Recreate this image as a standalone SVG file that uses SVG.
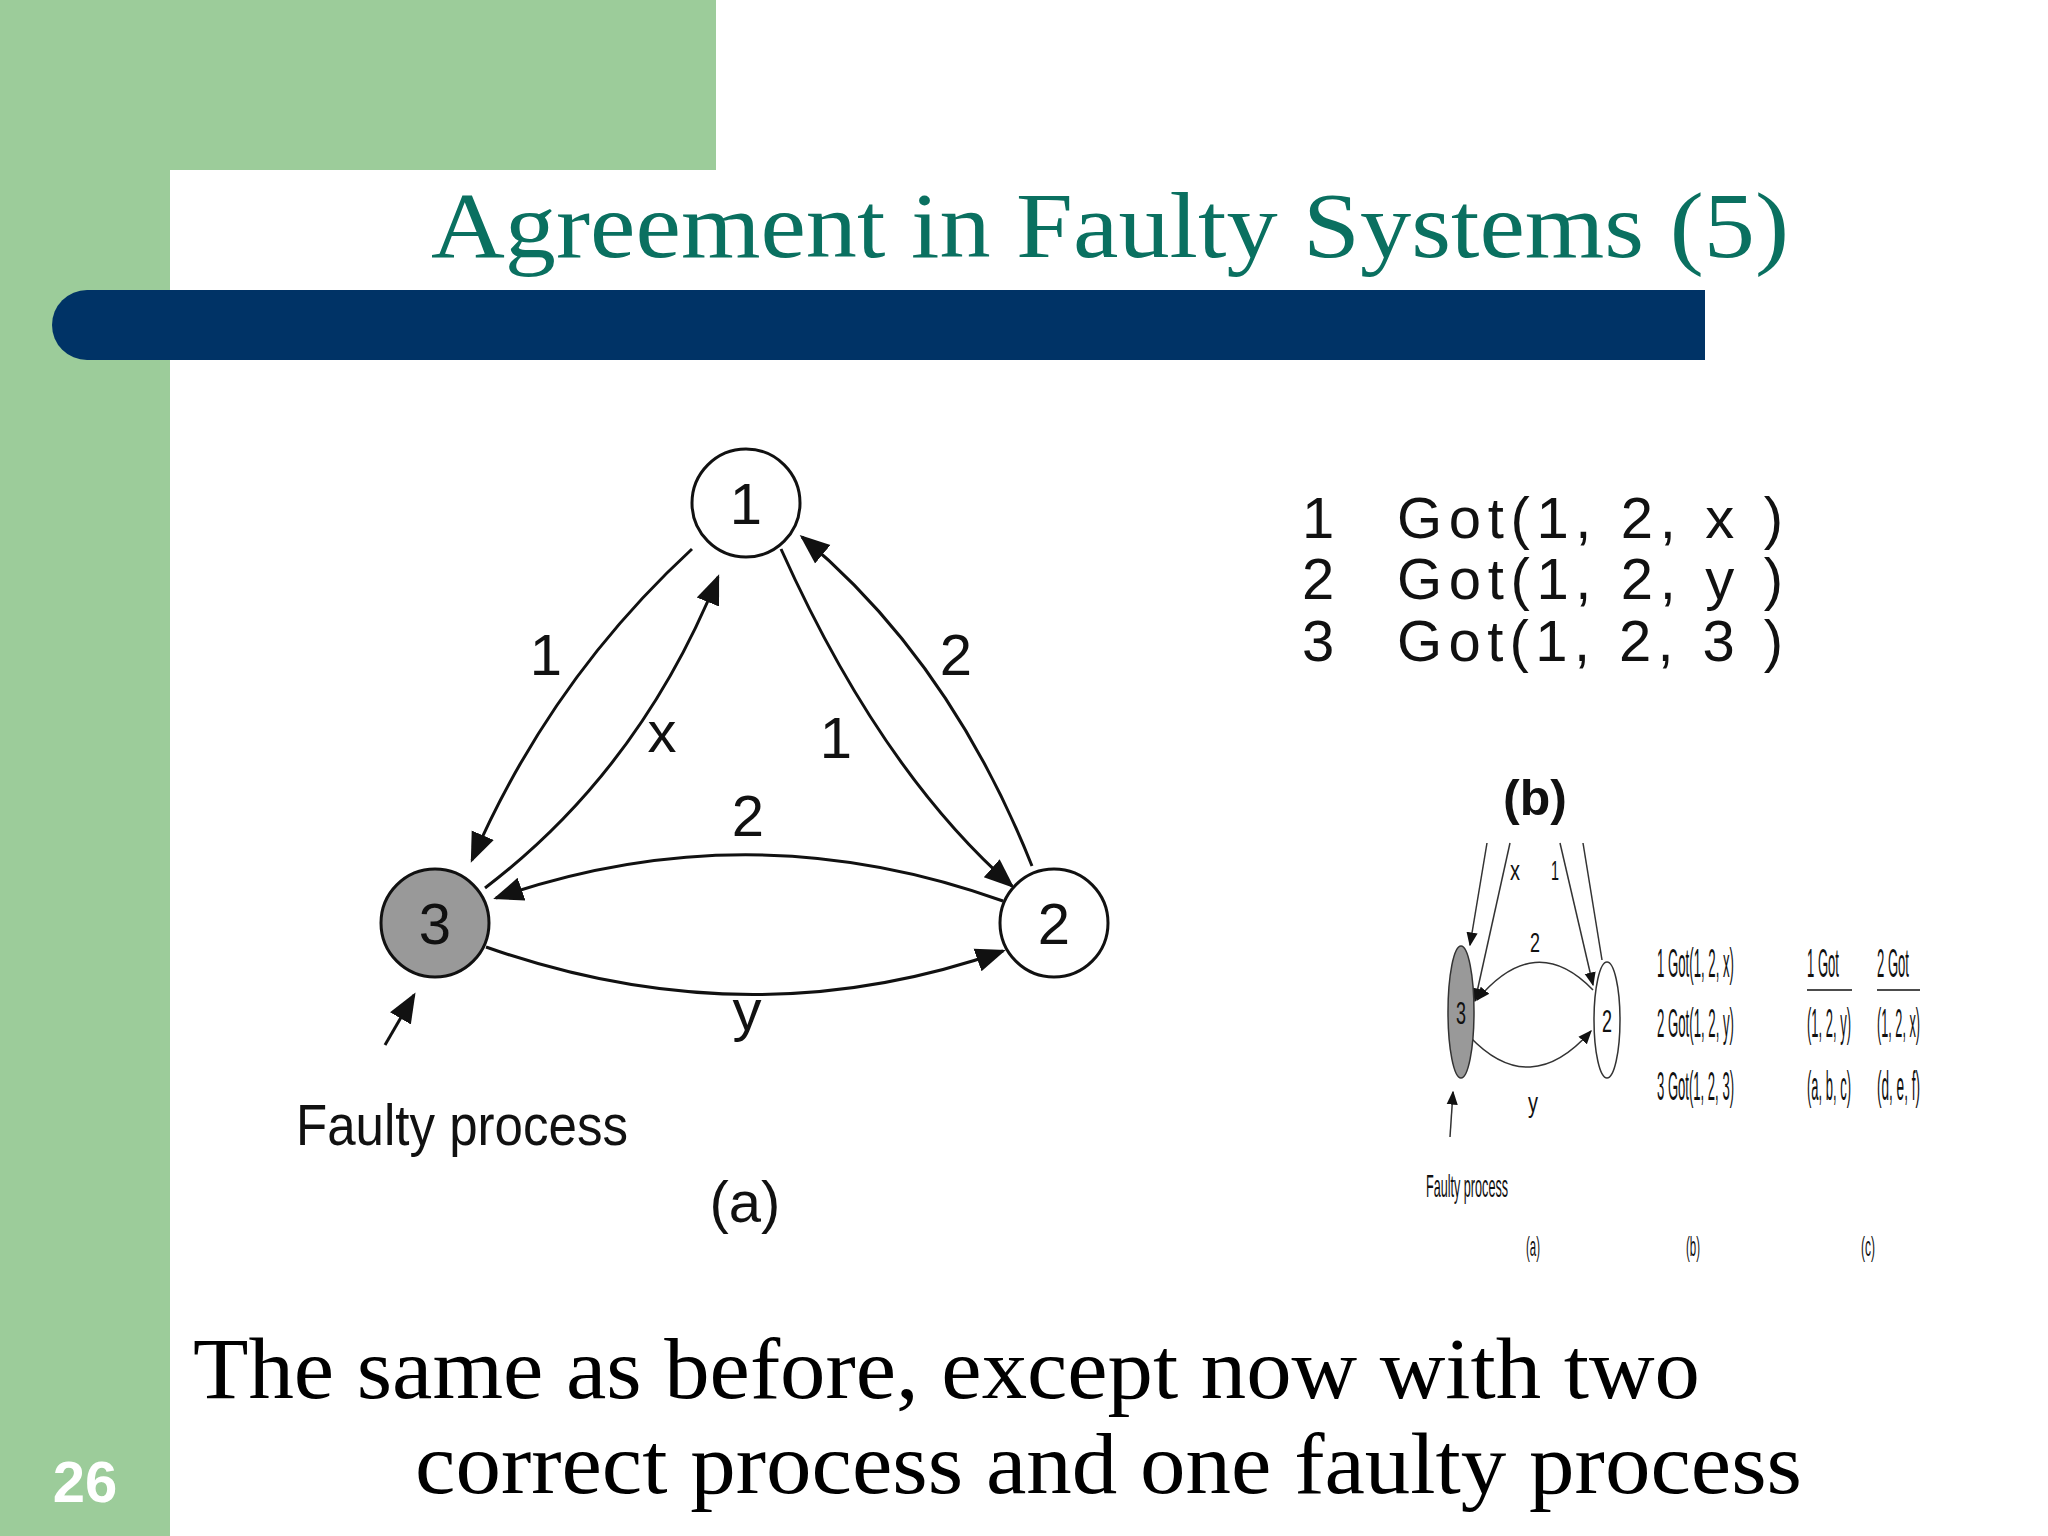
<svg xmlns="http://www.w3.org/2000/svg" width="2048" height="1536" viewBox="0 0 2048 1536">
<defs>
<marker id="ahB" viewBox="0 0 10 10" refX="9" refY="5" markerWidth="30" markerHeight="30" orient="auto" markerUnits="userSpaceOnUse"><path d="M0,1 L10,5 L0,9 z" fill="#111"/></marker>
<marker id="ahS" viewBox="0 0 10 10" refX="9" refY="5" markerWidth="14" markerHeight="14" orient="auto" markerUnits="userSpaceOnUse"><path d="M0,1 L10,5 L0,9 z" fill="#111"/></marker>
</defs>
<style>
.lbl{font-family:"Liberation Sans",Arial,sans-serif;fill:#111}
.big{font-size:58px}
.sm{font-size:28px}
.st{font-size:40px}
.e{fill:none;stroke:#111;stroke-width:3}
.es{fill:none;stroke:#333;stroke-width:1.5}
.n{fill:#fff;stroke:#111;stroke-width:3}
.f{fill:#999;stroke:#111;stroke-width:3}
</style>
<rect width="2048" height="1536" fill="#fff"/>
<rect x="0" y="0" width="716" height="170" fill="#9ccc9a"/>
<rect x="0" y="0" width="170" height="1536" fill="#9ccc9a"/>
<rect x="170" y="170" width="1878" height="1366" rx="18" fill="#fff"/>
<text x="431" y="257" textLength="1358" lengthAdjust="spacingAndGlyphs" font-family="Liberation Serif,serif" font-size="94" fill="#0a7060">Agreement in Faulty Systems (5)</text>
<path d="M87,290 L1705,290 L1705,360 L87,360 A35,35 0 0 1 87,290 Z" fill="#003366"/>
<text x="85" y="1502" text-anchor="middle" font-family="Liberation Sans,Arial,sans-serif" font-weight="bold" font-size="58" fill="#fff">26</text>

<g id="connectors">
<path class="e" d="M692,549 Q550,680 472,860" marker-end="url(#ahB)"/>
<path class="e" d="M485,888 Q640,770 718,577" marker-end="url(#ahB)"/>
<path class="e" d="M781,549 Q880,770 1012,886" marker-end="url(#ahB)"/>
<path class="e" d="M1032,866 Q950,660 802,537" marker-end="url(#ahB)"/>
<path class="e" d="M1003,901 Q750,810 496,898" marker-end="url(#ahB)"/>
<path class="e" d="M486,947 Q750,1040 1003,951" marker-end="url(#ahB)"/>
<path class="e" d="M385,1045 L414,995" marker-end="url(#ahB)"/>
<path class="es" d="M1487,843 L1470,945" marker-end="url(#ahS)"/>
<path class="es" d="M1510,843 L1475,1001" marker-end="url(#ahS)"/>
<path class="es" d="M1560,843 L1593,985" marker-end="url(#ahS)"/>
<path class="es" d="M1583,843 L1602,960"/>
<path class="es" d="M1593,990 Q1535,930 1477,1000" marker-end="url(#ahS)"/>
<path class="es" d="M1470,1037 Q1530,1100 1591,1031" marker-end="url(#ahS)"/>
<path class="es" d="M1450,1137 L1453,1092" marker-end="url(#ahS)"/>
</g>

<g id="node1"><circle class="n" cx="746" cy="503" r="54"/><text class="lbl big" x="746" y="524" text-anchor="middle">1</text></g>
<g id="node3"><circle class="f" cx="435" cy="923" r="54"/><text class="lbl big" x="435" y="944" text-anchor="middle">3</text></g>
<g id="node2"><circle class="n" cx="1054" cy="923" r="54"/><text class="lbl big" x="1054" y="944" text-anchor="middle">2</text></g>

<g id="labels-a">
<text class="lbl big" x="546" y="675" text-anchor="middle">1</text>
<text class="lbl big" x="662" y="752" text-anchor="middle">x</text>
<text class="lbl big" x="836" y="758" text-anchor="middle">1</text>
<text class="lbl big" x="956" y="675" text-anchor="middle">2</text>
<text class="lbl big" x="748" y="836" text-anchor="middle">2</text>
<text class="lbl big" x="747" y="1030" text-anchor="middle">y</text>
<text class="lbl big" x="296" y="1145" textLength="332" lengthAdjust="spacingAndGlyphs">Faulty process</text>
<text class="lbl big" x="745" y="1222" text-anchor="middle">(a)</text>
</g>

<g id="got-list" class="lbl" font-size="58">
<text x="1302" y="538">1</text><text x="1397" y="538" textLength="386">Got(1, 2, x )</text>
<text x="1302" y="599">2</text><text x="1397" y="599" textLength="386">Got(1, 2, y )</text>
<text x="1302" y="661">3</text><text x="1397" y="661" textLength="386">Got(1, 2, 3 )</text>
<text x="1535" y="815" text-anchor="middle" font-weight="bold" font-size="50">(b)</text>
</g>

<g id="small">
<ellipse cx="1461" cy="1012" rx="13" ry="66" fill="#999" stroke="#333" stroke-width="1.5"/>
<text class="lbl" x="1461" y="1024" font-size="32" text-anchor="middle" textLength="10" lengthAdjust="spacingAndGlyphs">3</text>
<ellipse cx="1607" cy="1020" rx="13" ry="58" fill="#fff" stroke="#333" stroke-width="1.5"/>
<text class="lbl" x="1607" y="1032" font-size="32" text-anchor="middle" textLength="10" lengthAdjust="spacingAndGlyphs">2</text>
<text class="lbl sm" x="1515" y="880" text-anchor="middle" textLength="10" lengthAdjust="spacingAndGlyphs">x</text>
<text class="lbl sm" x="1555" y="880" text-anchor="middle" textLength="8" lengthAdjust="spacingAndGlyphs">1</text>
<text class="lbl sm" x="1535" y="952" text-anchor="middle" textLength="10" lengthAdjust="spacingAndGlyphs">2</text>
<text class="lbl sm" x="1533" y="1112" text-anchor="middle" textLength="10" lengthAdjust="spacingAndGlyphs">y</text>
<text class="lbl" font-size="32" x="1426" y="1197" textLength="82" lengthAdjust="spacingAndGlyphs">Faulty process</text>
<text class="lbl sm" x="1533" y="1256" text-anchor="middle" textLength="14" lengthAdjust="spacingAndGlyphs">(a)</text>
<text class="lbl sm" x="1693" y="1256" text-anchor="middle" textLength="14" lengthAdjust="spacingAndGlyphs">(b)</text>
<text class="lbl sm" x="1868" y="1256" text-anchor="middle" textLength="14" lengthAdjust="spacingAndGlyphs">(c)</text>
<text class="lbl st" x="1657" y="977" textLength="77" lengthAdjust="spacingAndGlyphs">1 Got(1, 2, x)</text>
<text class="lbl st" x="1657" y="1037" textLength="77" lengthAdjust="spacingAndGlyphs">2 Got(1, 2, y)</text>
<text class="lbl st" x="1657" y="1100" textLength="77" lengthAdjust="spacingAndGlyphs">3 Got(1, 2, 3)</text>
<text class="lbl st" x="1807" y="977" textLength="32" lengthAdjust="spacingAndGlyphs">1 Got</text>
<line x1="1807" y1="990" x2="1852" y2="990" stroke="#111" stroke-width="1.5"/>
<text class="lbl st" x="1807" y="1037" textLength="44" lengthAdjust="spacingAndGlyphs">(1, 2, y)</text>
<text class="lbl st" x="1807" y="1100" textLength="44" lengthAdjust="spacingAndGlyphs">(a, b, c)</text>
<text class="lbl st" x="1877" y="977" textLength="32" lengthAdjust="spacingAndGlyphs">2 Got</text>
<line x1="1877" y1="990" x2="1920" y2="990" stroke="#111" stroke-width="1.5"/>
<text class="lbl st" x="1877" y="1037" textLength="43" lengthAdjust="spacingAndGlyphs">(1, 2, x)</text>
<text class="lbl st" x="1877" y="1100" textLength="43" lengthAdjust="spacingAndGlyphs">(d, e, f)</text>
</g>

<text x="193" y="1398" textLength="1507" lengthAdjust="spacingAndGlyphs" font-family="Liberation Serif,serif" font-size="86" fill="#000">The same as before, except now with two</text>
<text x="415" y="1493" textLength="1387" lengthAdjust="spacingAndGlyphs" font-family="Liberation Serif,serif" font-size="86" fill="#000">correct process and one faulty process</text>
</svg>
